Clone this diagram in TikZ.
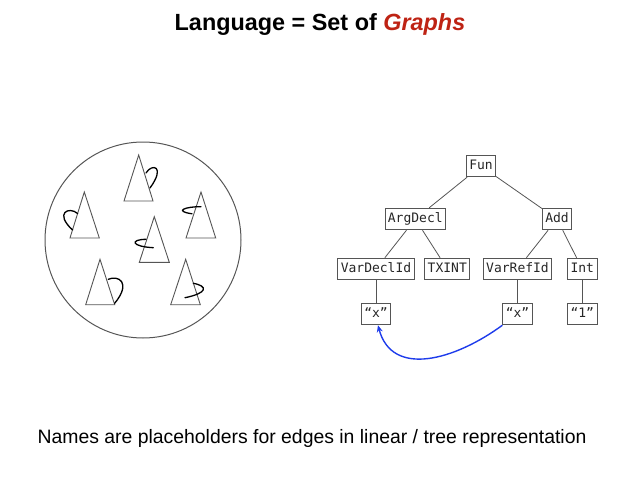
\documentclass[tikz,border=0pt]{standalone}
\usepackage{fontspec}
\setmainfont{Liberation Sans}
\setmonofont{DejaVu Sans Mono}
\usetikzlibrary{arrows.meta}
\definecolor{titlered}{RGB}{190,35,20}
\definecolor{boxgray}{RGB}{85,85,85}
\definecolor{arrowblue}{RGB}{30,60,235}
\begin{document}
\begin{tikzpicture}[x=1pt,y=-1pt,
  tnode/.style={draw=boxgray, line width=0.8pt, font=\fontsize{13}{15}\ttfamily, text=black!85, inner xsep=3pt, inner ysep=0pt, minimum height=21.7pt, minimum width=29.5pt, text height=9.8pt, text depth=2.6pt},
  tedge/.style={draw=boxgray, line width=0.8pt},
  tri/.style={draw=boxgray, line width=0.9pt, line join=miter},
  loopline/.style={draw=black, line width=1.3pt, line cap=round}]
\useasboundingbox (0,0) rectangle (638,479);

% title
\node (title) at (320,25) {\fontsize{23.4}{27}\selectfont\bfseries Language = Set of \textcolor{titlered}{\itshape Graphs}};

% circle with graphs
\node[draw=boxgray, line width=1pt, circle, minimum size=196pt, inner sep=0pt] (set) at (143,240) {};

\draw[tri] (138.7,155) -- (153,201) -- (124,201) -- cycle;
\draw[loopline] (146,173) .. controls (152,163) and (166,166) .. (150,188);

\draw[tri] (84.3,192) -- (99.3,238) -- (70,238) -- cycle;
\draw[loopline] (77.6,213.5) .. controls (69,206) and (54,213) .. (72.6,230);

\draw[tri] (201,192) -- (215.7,238) -- (186,238) -- cycle;
\draw[loopline] (201,206.7) .. controls (186,206.5) and (173,211) .. (192,213.8);

\draw[tri] (154.3,216.7) -- (169.3,262.3) -- (139.3,262.3) -- cycle;
\draw[loopline] (146,239.3) .. controls (130,239.5) and (131,246.5) .. (153.3,247.7);

\draw[tri] (100,259.3) -- (114.7,304.7) -- (85.7,304.7) -- cycle;
\draw[loopline] (108.3,279.3) .. controls (118,275) and (132,282) .. (114.7,303.3);

\draw[tri] (185.7,259.3) -- (200.3,304.7) -- (170.7,304.7) -- cycle;
\draw[loopline] (193.3,283.3) .. controls (208,286) and (208,293) .. (185,297.7);

% tree
\node[tnode] (fun) at (481,166) {Fun};
\node[tnode] (argdecl) at (415.3,219) {ArgDecl};
\node[tnode] (add) at (557,219) {Add};
\node[tnode] (vardeclid) at (376,269) {VarDeclId};
\node[tnode] (txint) at (447.3,269) {TXINT};
\node[tnode] (varrefid) at (517.5,269) {VarRefId};
\node[tnode] (int) at (582.3,269) {Int};
\node[tnode] (xl) at (376,314) {“x”};
\node[tnode] (xr) at (517.5,314) {“x”};
\node[tnode] (one) at (582.3,314) {“1”};

\draw[tedge] (fun) -- (argdecl);
\draw[tedge] (fun) -- (add);
\draw[tedge] (argdecl) -- (vardeclid);
\draw[tedge] (argdecl) -- (txint);
\draw[tedge] (add) -- (varrefid);
\draw[tedge] (add) -- (int);
\draw[tedge] (vardeclid) -- (xl);
\draw[tedge] (varrefid) -- (xr);
\draw[tedge] (int) -- (one);

\draw[arrowblue, line width=1.4pt, -{Stealth[length=7pt,width=6pt]}]
  (xr.south west) .. controls (455,360) and (392,378) .. ([xshift=2pt]xl.south);

% caption
\node (caption) at (312,438) {\fontsize{19.4}{23}\selectfont Names are placeholders for edges in linear / tree representation};
\end{tikzpicture}
\end{document}
